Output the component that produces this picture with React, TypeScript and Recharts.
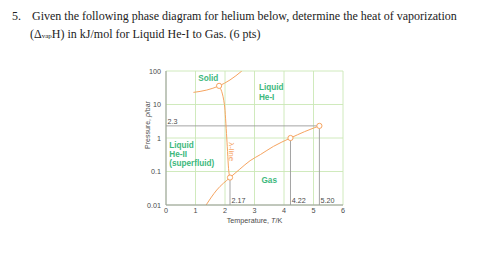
import React from 'react';
import { ComposedChart, Line, Scatter, XAxis, YAxis, CartesianGrid, ReferenceLine } from 'recharts';

// temperature (K) / pressure (bar)
const meltingCurve = [
  { T: 0.93, P: 23 },
  { T: 1.38, P: 27 },
  { T: 1.8, P: 36 },
  { T: 2.17, P: 54 },
  { T: 2.57, P: 100 },
];
const lambdaLine = [
  { T: 1.8, P: 36 },
  { T: 1.98, P: 10 },
  { T: 2.06, P: 1 },
  { T: 2.13, P: 0.1 },
  { T: 2.17, P: 0.066 },
];
const vaporCurve = [
  { T: 1.36, P: 0.01 },
  { T: 1.72, P: 0.028 },
  { T: 2.17, P: 0.066 },
  { T: 2.5, P: 0.117 },
  { T: 2.85, P: 0.21 },
  { T: 3.2, P: 0.32 },
  { T: 3.64, P: 0.56 },
  { T: 4.22, P: 1 },
  { T: 4.7, P: 1.55 },
  { T: 5.2, P: 2.3 },
];
const markedPoints = [
  { T: 1.8, P: 36 },
  { T: 2.17, P: 0.066 },
  { T: 4.22, P: 1 },
  { T: 5.2, P: 2.3 },
];
const xTicks = [0, 1, 2, 3, 4, 5, 6];
const yTicks = [0.01, 0.1, 1, 10, 100];

const phaseLabels = [
  { T: 1.43, P: 60, lines: ['Solid'], anchor: 'middle' },
  { T: 3.15, P: 32, lines: ['Liquid', 'He-I'], anchor: 'start' },
  { T: 0.11, P: 0.63, lines: ['Liquid', 'He-II', '(superfluid)'], anchor: 'start' },
  { T: 3.5, P: 0.055, lines: ['Gas'], anchor: 'middle' },
];
const valueLabels = [
  { T: 0.05, P: 3.1, text: '2.3' },
  { T: 2.22, P: 0.0135, text: '2.17' },
  { T: 4.26, P: 0.0135, text: '4.22' },
  { T: 5.24, P: 0.0135, text: '5.20' },
];
const lambdaLabel = [{ T: 2.22, P: 0.39, text: 'λ-line' }];

const ORANGE = '#f6a460';
const GREEN = '#3db87c';
const GRID = '#cbe8b6';
const GRAY = '#9a9a9a';
const TEXT = '#4a4a4a';
const SANS = 'Liberation Sans, Arial, sans-serif';

const PhaseText = (props: any) => {
  const { cx, cy, payload } = props;
  return (
    <text x={cx} y={cy} textAnchor={payload.anchor} fill={GREEN} fontSize={8.2} fontWeight="bold" fontFamily={SANS}>
      {payload.lines.map((l: string, i: number) => (
        <tspan key={i} x={cx} dy={i === 0 ? '0.35em' : '1.15em'}>{l}</tspan>
      ))}
    </text>
  );
};

const ValueText = (props: any) => {
  const { cx, cy, payload } = props;
  return (
    <text x={cx} y={cy} dy="0.35em" fill={TEXT} fontSize={7.2} fontFamily={SANS}>{payload.text}</text>
  );
};

const LambdaText = (props: any) => {
  const { cx, cy, payload } = props;
  return (
    <text x={cx} y={cy} dy="0.3em" textAnchor="middle" fill={ORANGE} fontSize={8} fontFamily={SANS}
      transform={`rotate(90 ${cx} ${cy})`}>{payload.text}</text>
  );
};

const Marker = (props: any) => (
  <circle cx={props.cx} cy={props.cy} r={2.6} fill="#fff" stroke={ORANGE} strokeWidth={1} />
);

const YLabel = () => {
  const x = 147.5;
  const y = 125;
  return (
    <text x={x} y={y} dy="0.35em" textAnchor="middle" fill={TEXT} fontSize={7} fontFamily={SANS} transform={`rotate(-90 ${x} ${y})`}>
      Pressure, <tspan fontStyle="italic">p</tspan>/bar
    </text>
  );
};

const XLabel = (props: any) => {
  const { viewBox } = props;
  const x = viewBox.x + viewBox.width / 2;
  return (
    <text x={x} y={220.7} dy="0.35em" textAnchor="middle" fill={TEXT} fontSize={7.2} fontFamily={SANS}>
      Temperature, <tspan fontStyle="italic">T</tspan>/K
    </text>
  );
};

export default function App() {
  return (
    <div style={{ position: 'absolute', left: 0, top: 0, width: 485, height: 267, background: '#fff' }}>
      <div style={{ position: 'absolute', left: 12, top: 7, fontFamily: 'Liberation Serif, Times New Roman, serif', fontSize: 12, lineHeight: '18px', color: '#222', whiteSpace: 'nowrap' }}>
        <div>5.<span style={{ display: 'inline-block', width: 11 }} />Given the following phase diagram for helium below, determine the heat of vaporization</div>
        <div style={{ paddingLeft: 18 }}>(Δ<span style={{ fontSize: 7 }}>vap</span>H) in kJ/mol for Liquid He-I to Gas. (6 pts)</div>
      </div>
      <div style={{ position: 'absolute', left: 0, top: 0 }}>
        <ComposedChart width={485} height={267} margin={{ top: 71, right: 142, bottom: 32, left: 136 }}>
          <CartesianGrid stroke={GRID} strokeWidth={0.9} />
          <XAxis
            type="number"
            dataKey="T"
            domain={[0, 6]}
            ticks={xTicks}
            allowDataOverflow
            tickSize={0}
            tickMargin={3}
            stroke={GRAY}
            tick={{ fill: TEXT, fontSize: 7.2, fontFamily: SANS }}
            label={<XLabel />}
          />
          <YAxis
            type="number"
            dataKey="P"
            scale="log"
            domain={[0.01, 100]}
            ticks={yTicks}
            allowDataOverflow
            width={30}
            tickSize={0}
            tickMargin={5}
            stroke={GRAY}
            tick={{ fill: TEXT, fontSize: 7.2, fontFamily: SANS }}
            label={<YLabel />}
          />
          <ReferenceLine segment={[{ x: 0, y: 2.3 }, { x: 5.2, y: 2.3 }]} stroke={GRAY} strokeWidth={0.9} />
          <ReferenceLine segment={[{ x: 2.17, y: 0.01 }, { x: 2.17, y: 0.066 }]} stroke={GRAY} strokeWidth={0.9} />
          <ReferenceLine segment={[{ x: 4.22, y: 0.01 }, { x: 4.22, y: 1 }]} stroke={GRAY} strokeWidth={0.9} />
          <ReferenceLine segment={[{ x: 5.2, y: 0.01 }, { x: 5.2, y: 2.3 }]} stroke={GRAY} strokeWidth={0.9} />
          <Line data={meltingCurve} dataKey="P" type="monotone" stroke={ORANGE} strokeWidth={1} dot={false} isAnimationActive={false} />
          <Line data={lambdaLine} dataKey="P" type="monotone" stroke={ORANGE} strokeWidth={1} dot={false} isAnimationActive={false} />
          <Line data={vaporCurve} dataKey="P" type="monotone" stroke={ORANGE} strokeWidth={1} dot={false} isAnimationActive={false} />
          <Scatter data={markedPoints} dataKey="P" shape={<Marker />} isAnimationActive={false} />
          <Scatter data={phaseLabels} dataKey="P" shape={<PhaseText />} isAnimationActive={false} />
          <Scatter data={valueLabels} dataKey="P" shape={<ValueText />} isAnimationActive={false} />
          <Scatter data={lambdaLabel} dataKey="P" shape={<LambdaText />} isAnimationActive={false} />
        </ComposedChart>
      </div>
    </div>
  );
}
